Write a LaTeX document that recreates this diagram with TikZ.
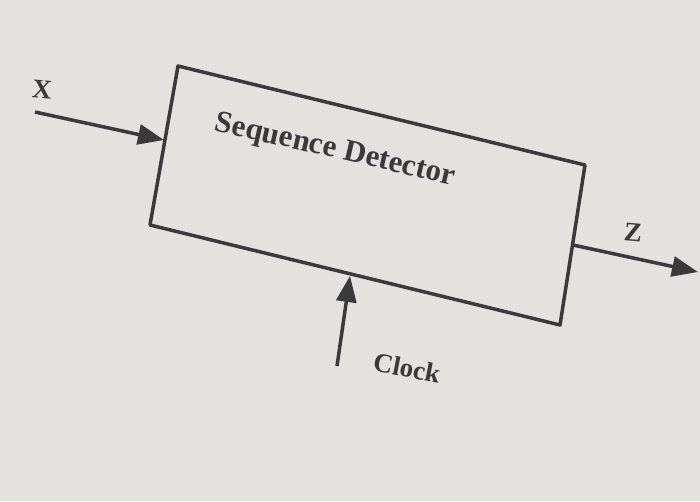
\documentclass[tikz,border=0pt]{standalone}
\usepackage{fontspec}
\setmainfont{Liberation Serif}
\usetikzlibrary{arrows.meta}
\definecolor{bg}{HTML}{E4E2DE}
\definecolor{ink}{HTML}{3A3A3C}
\begin{document}
\begin{tikzpicture}[x=1pt,y=-1pt,
  wire/.style={ink,line width=3.5pt,-{Triangle[length=26pt,width=20pt]}},
  lbl/.style={ink,font=\bfseries\fontsize{27}{29}\selectfont,inner sep=0pt}]
\fill[bg] (0,0) rectangle (700,501);
\useasboundingbox (0,0) rectangle (700,501);
\coordinate (tl) at (178,66);
\coordinate (tr) at (585,165);
\coordinate (br) at (560,325);
\coordinate (bl) at (150,225);
\draw[ink,line width=3.5pt,line join=round] (tl) -- (tr) -- (br) -- (bl) -- cycle;
\node[lbl,font=\bfseries\fontsize{31}{33}\selectfont,rotate=-13] (sd) at (335,151) {Sequence Detector};
\coordinate (xs) at (35,112);
\coordinate (xe) at (164,140);
\draw[wire] (xs) -- (xe);
\node[lbl,rotate=-5] (xl) at (42,90) {X};
\coordinate (zs) at (573,245);
\coordinate (ze) at (698,272);
\draw[wire] (zs) -- (ze);
\node[lbl,rotate=-5] (zl) at (633,232) {Z};
\coordinate (cs) at (337,366);
\coordinate (ce) at (350,276);
\draw[wire] (cs) -- (ce);
\node[lbl,rotate=-11] (cl) at (407,368) {Clock};
\end{tikzpicture}
\end{document}
